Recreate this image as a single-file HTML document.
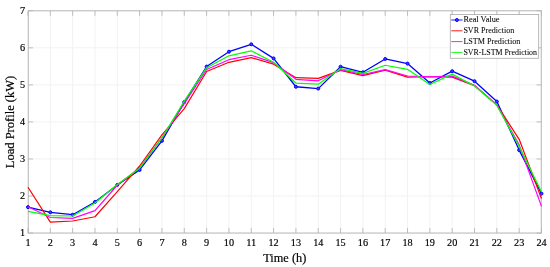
<!DOCTYPE html>
<html><head><meta charset="utf-8"><style>
html,body{margin:0;padding:0;background:#fff;width:550px;height:267px;overflow:hidden}
svg{display:block;font-family:"Liberation Serif",serif;fill:#000}
svg text{fill:#000;stroke:#000;stroke-width:0.18px}
</style></head><body>
<svg width="550" height="267" viewBox="0 0 550 267">
<rect x="0" y="0" width="550" height="267" fill="#fff"/>
<g stroke="#f2f2f2" stroke-width="1"><line x1="50.33" y1="10.8" x2="50.33" y2="233.05"/><line x1="72.65" y1="10.8" x2="72.65" y2="233.05"/><line x1="94.98" y1="10.8" x2="94.98" y2="233.05"/><line x1="117.30" y1="10.8" x2="117.30" y2="233.05"/><line x1="139.63" y1="10.8" x2="139.63" y2="233.05"/><line x1="161.96" y1="10.8" x2="161.96" y2="233.05"/><line x1="184.28" y1="10.8" x2="184.28" y2="233.05"/><line x1="206.61" y1="10.8" x2="206.61" y2="233.05"/><line x1="228.93" y1="10.8" x2="228.93" y2="233.05"/><line x1="251.26" y1="10.8" x2="251.26" y2="233.05"/><line x1="273.59" y1="10.8" x2="273.59" y2="233.05"/><line x1="295.91" y1="10.8" x2="295.91" y2="233.05"/><line x1="318.24" y1="10.8" x2="318.24" y2="233.05"/><line x1="340.57" y1="10.8" x2="340.57" y2="233.05"/><line x1="362.89" y1="10.8" x2="362.89" y2="233.05"/><line x1="385.22" y1="10.8" x2="385.22" y2="233.05"/><line x1="407.54" y1="10.8" x2="407.54" y2="233.05"/><line x1="429.87" y1="10.8" x2="429.87" y2="233.05"/><line x1="452.20" y1="10.8" x2="452.20" y2="233.05"/><line x1="474.52" y1="10.8" x2="474.52" y2="233.05"/><line x1="496.85" y1="10.8" x2="496.85" y2="233.05"/><line x1="519.17" y1="10.8" x2="519.17" y2="233.05"/><line x1="28.0" y1="196.01" x2="541.5" y2="196.01"/><line x1="28.0" y1="158.97" x2="541.5" y2="158.97"/><line x1="28.0" y1="121.93" x2="541.5" y2="121.93"/><line x1="28.0" y1="84.88" x2="541.5" y2="84.88"/><line x1="28.0" y1="47.84" x2="541.5" y2="47.84"/></g>
<g stroke="#b0b0b0" stroke-width="0.8"><line x1="28.00" y1="233.05" x2="28.00" y2="228.05"/><line x1="28.00" y1="10.8" x2="28.00" y2="15.8"/><line x1="50.33" y1="233.05" x2="50.33" y2="228.05"/><line x1="50.33" y1="10.8" x2="50.33" y2="15.8"/><line x1="72.65" y1="233.05" x2="72.65" y2="228.05"/><line x1="72.65" y1="10.8" x2="72.65" y2="15.8"/><line x1="94.98" y1="233.05" x2="94.98" y2="228.05"/><line x1="94.98" y1="10.8" x2="94.98" y2="15.8"/><line x1="117.30" y1="233.05" x2="117.30" y2="228.05"/><line x1="117.30" y1="10.8" x2="117.30" y2="15.8"/><line x1="139.63" y1="233.05" x2="139.63" y2="228.05"/><line x1="139.63" y1="10.8" x2="139.63" y2="15.8"/><line x1="161.96" y1="233.05" x2="161.96" y2="228.05"/><line x1="161.96" y1="10.8" x2="161.96" y2="15.8"/><line x1="184.28" y1="233.05" x2="184.28" y2="228.05"/><line x1="184.28" y1="10.8" x2="184.28" y2="15.8"/><line x1="206.61" y1="233.05" x2="206.61" y2="228.05"/><line x1="206.61" y1="10.8" x2="206.61" y2="15.8"/><line x1="228.93" y1="233.05" x2="228.93" y2="228.05"/><line x1="228.93" y1="10.8" x2="228.93" y2="15.8"/><line x1="251.26" y1="233.05" x2="251.26" y2="228.05"/><line x1="251.26" y1="10.8" x2="251.26" y2="15.8"/><line x1="273.59" y1="233.05" x2="273.59" y2="228.05"/><line x1="273.59" y1="10.8" x2="273.59" y2="15.8"/><line x1="295.91" y1="233.05" x2="295.91" y2="228.05"/><line x1="295.91" y1="10.8" x2="295.91" y2="15.8"/><line x1="318.24" y1="233.05" x2="318.24" y2="228.05"/><line x1="318.24" y1="10.8" x2="318.24" y2="15.8"/><line x1="340.57" y1="233.05" x2="340.57" y2="228.05"/><line x1="340.57" y1="10.8" x2="340.57" y2="15.8"/><line x1="362.89" y1="233.05" x2="362.89" y2="228.05"/><line x1="362.89" y1="10.8" x2="362.89" y2="15.8"/><line x1="385.22" y1="233.05" x2="385.22" y2="228.05"/><line x1="385.22" y1="10.8" x2="385.22" y2="15.8"/><line x1="407.54" y1="233.05" x2="407.54" y2="228.05"/><line x1="407.54" y1="10.8" x2="407.54" y2="15.8"/><line x1="429.87" y1="233.05" x2="429.87" y2="228.05"/><line x1="429.87" y1="10.8" x2="429.87" y2="15.8"/><line x1="452.20" y1="233.05" x2="452.20" y2="228.05"/><line x1="452.20" y1="10.8" x2="452.20" y2="15.8"/><line x1="474.52" y1="233.05" x2="474.52" y2="228.05"/><line x1="474.52" y1="10.8" x2="474.52" y2="15.8"/><line x1="496.85" y1="233.05" x2="496.85" y2="228.05"/><line x1="496.85" y1="10.8" x2="496.85" y2="15.8"/><line x1="519.17" y1="233.05" x2="519.17" y2="228.05"/><line x1="519.17" y1="10.8" x2="519.17" y2="15.8"/><line x1="541.50" y1="233.05" x2="541.50" y2="228.05"/><line x1="541.50" y1="10.8" x2="541.50" y2="15.8"/><line x1="28.0" y1="233.05" x2="33.0" y2="233.05"/><line x1="541.5" y1="233.05" x2="536.5" y2="233.05"/><line x1="28.0" y1="196.01" x2="33.0" y2="196.01"/><line x1="541.5" y1="196.01" x2="536.5" y2="196.01"/><line x1="28.0" y1="158.97" x2="33.0" y2="158.97"/><line x1="541.5" y1="158.97" x2="536.5" y2="158.97"/><line x1="28.0" y1="121.93" x2="33.0" y2="121.93"/><line x1="541.5" y1="121.93" x2="536.5" y2="121.93"/><line x1="28.0" y1="84.88" x2="33.0" y2="84.88"/><line x1="541.5" y1="84.88" x2="536.5" y2="84.88"/><line x1="28.0" y1="47.84" x2="33.0" y2="47.84"/><line x1="541.5" y1="47.84" x2="536.5" y2="47.84"/><line x1="28.0" y1="10.80" x2="33.0" y2="10.80"/><line x1="541.5" y1="10.80" x2="536.5" y2="10.80"/></g>
<rect x="28.25" y="10.8" width="513.00" height="222.25" fill="none" stroke="#b4b4b4" stroke-width="1"/>
<polyline points="28.00,207.12 50.33,212.31 72.65,214.71 94.98,201.94 117.30,184.90 139.63,169.89 161.96,140.82 184.28,102.11 206.61,66.55 228.93,51.73 251.26,44.29 273.59,58.40 295.91,86.74 318.24,88.59 340.57,66.73 362.89,72.29 385.22,58.95 407.54,63.58 429.87,83.03 452.20,71.18 474.52,81.18 496.85,101.55 519.17,150.08 541.50,193.60" fill="none" stroke="#0000ff" stroke-width="1.3" stroke-linejoin="round"/>
<g fill="#3c3cff" stroke="#0000ff" stroke-width="1"><circle cx="28.00" cy="207.12" r="1.5"/><circle cx="50.33" cy="212.31" r="1.5"/><circle cx="72.65" cy="214.71" r="1.5"/><circle cx="94.98" cy="201.94" r="1.5"/><circle cx="117.30" cy="184.90" r="1.5"/><circle cx="139.63" cy="169.89" r="1.5"/><circle cx="161.96" cy="140.82" r="1.5"/><circle cx="184.28" cy="102.11" r="1.5"/><circle cx="206.61" cy="66.55" r="1.5"/><circle cx="228.93" cy="51.73" r="1.5"/><circle cx="251.26" cy="44.29" r="1.5"/><circle cx="273.59" cy="58.40" r="1.5"/><circle cx="295.91" cy="86.74" r="1.5"/><circle cx="318.24" cy="88.59" r="1.5"/><circle cx="340.57" cy="66.73" r="1.5"/><circle cx="362.89" cy="72.29" r="1.5"/><circle cx="385.22" cy="58.95" r="1.5"/><circle cx="407.54" cy="63.58" r="1.5"/><circle cx="429.87" cy="83.03" r="1.5"/><circle cx="452.20" cy="71.18" r="1.5"/><circle cx="474.52" cy="81.18" r="1.5"/><circle cx="496.85" cy="101.55" r="1.5"/><circle cx="519.17" cy="150.08" r="1.5"/><circle cx="541.50" cy="193.60" r="1.5"/></g>
<polyline points="28.00,187.30 50.33,222.12 72.65,221.01 94.98,216.75 117.30,191.56 139.63,166.00 161.96,134.89 184.28,108.59 206.61,71.55 228.93,62.29 251.26,57.66 273.59,64.14 295.91,77.66 318.24,78.40 340.57,70.44 362.89,75.62 385.22,70.07 407.54,77.10 429.87,76.73 452.20,77.10 474.52,85.62 496.85,104.89 519.17,139.33 541.50,198.60" fill="none" stroke="#ff0000" stroke-width="1.2" stroke-linejoin="round"/>
<polyline points="28.00,206.75 50.33,217.49 72.65,218.42 94.98,210.64 117.30,185.27 139.63,167.86 161.96,137.85 184.28,103.77 206.61,69.51 228.93,59.70 251.26,55.25 273.59,62.66 295.91,79.33 318.24,80.81 340.57,69.70 362.89,74.51 385.22,69.70 407.54,75.99 429.87,76.73 452.20,76.18 474.52,85.25 496.85,104.89 519.17,144.89 541.50,206.38" fill="none" stroke="#ff00ff" stroke-width="1.2" stroke-linejoin="round"/>
<polyline points="28.00,211.38 50.33,215.64 72.65,216.01 94.98,203.05 117.30,184.53 139.63,168.23 161.96,137.85 184.28,101.18 206.61,67.66 228.93,55.81 251.26,50.81 273.59,62.29 295.91,83.03 318.24,84.14 340.57,68.59 362.89,73.40 385.22,65.25 407.54,69.33 429.87,84.51 452.20,74.14 474.52,85.99 496.85,105.26 519.17,146.37 541.50,191.93" fill="none" stroke="#00ff00" stroke-width="1.2" stroke-linejoin="round"/>
<rect x="450.3" y="14.5" width="88.40" height="43.80" fill="#fff" stroke="#a8a8a8" stroke-width="0.8"/>
<line x1="451.3" y1="20.00" x2="462.5" y2="20.00" stroke="#0000ff" stroke-width="0.9"/>
<circle cx="456.9" cy="20.00" r="1.5" fill="#3c3cff" stroke="#0000ff" stroke-width="1"/>
<text x="463.4" y="22.10" textLength="36.1" lengthAdjust="spacingAndGlyphs" font-size="7.6" style="stroke-width:0.05px">Real Value</text>
<line x1="451.3" y1="30.80" x2="462.5" y2="30.80" stroke="#ff0000" stroke-width="0.9"/>
<text x="463.4" y="32.90" textLength="50.8" lengthAdjust="spacingAndGlyphs" font-size="7.6" style="stroke-width:0.05px">SVR Prediction</text>
<line x1="451.3" y1="41.60" x2="462.5" y2="41.60" stroke="#ff00ff" stroke-width="0.9"/>
<text x="463.4" y="43.70" textLength="57.0" lengthAdjust="spacingAndGlyphs" font-size="7.6" style="stroke-width:0.05px">LSTM Prediction</text>
<line x1="451.3" y1="52.40" x2="462.5" y2="52.40" stroke="#00ff00" stroke-width="0.9"/>
<text x="463.4" y="54.50" textLength="73.6" lengthAdjust="spacingAndGlyphs" font-size="7.6" style="stroke-width:0.05px">SVR-LSTM Prediction</text>
<g font-size="11"><text x="28.00" y="246.3" text-anchor="middle" textLength="5.10" lengthAdjust="spacingAndGlyphs">1</text><text x="50.33" y="246.3" text-anchor="middle" textLength="5.10" lengthAdjust="spacingAndGlyphs">2</text><text x="72.65" y="246.3" text-anchor="middle" textLength="5.10" lengthAdjust="spacingAndGlyphs">3</text><text x="94.98" y="246.3" text-anchor="middle" textLength="5.10" lengthAdjust="spacingAndGlyphs">4</text><text x="117.30" y="246.3" text-anchor="middle" textLength="5.10" lengthAdjust="spacingAndGlyphs">5</text><text x="139.63" y="246.3" text-anchor="middle" textLength="5.10" lengthAdjust="spacingAndGlyphs">6</text><text x="161.96" y="246.3" text-anchor="middle" textLength="5.10" lengthAdjust="spacingAndGlyphs">7</text><text x="184.28" y="246.3" text-anchor="middle" textLength="5.10" lengthAdjust="spacingAndGlyphs">8</text><text x="206.61" y="246.3" text-anchor="middle" textLength="5.10" lengthAdjust="spacingAndGlyphs">9</text><text x="228.93" y="246.3" text-anchor="middle" textLength="10.20" lengthAdjust="spacingAndGlyphs">10</text><text x="251.26" y="246.3" text-anchor="middle" textLength="10.20" lengthAdjust="spacingAndGlyphs">11</text><text x="273.59" y="246.3" text-anchor="middle" textLength="10.20" lengthAdjust="spacingAndGlyphs">12</text><text x="295.91" y="246.3" text-anchor="middle" textLength="10.20" lengthAdjust="spacingAndGlyphs">13</text><text x="318.24" y="246.3" text-anchor="middle" textLength="10.20" lengthAdjust="spacingAndGlyphs">14</text><text x="340.57" y="246.3" text-anchor="middle" textLength="10.20" lengthAdjust="spacingAndGlyphs">15</text><text x="362.89" y="246.3" text-anchor="middle" textLength="10.20" lengthAdjust="spacingAndGlyphs">16</text><text x="385.22" y="246.3" text-anchor="middle" textLength="10.20" lengthAdjust="spacingAndGlyphs">17</text><text x="407.54" y="246.3" text-anchor="middle" textLength="10.20" lengthAdjust="spacingAndGlyphs">18</text><text x="429.87" y="246.3" text-anchor="middle" textLength="10.20" lengthAdjust="spacingAndGlyphs">19</text><text x="452.20" y="246.3" text-anchor="middle" textLength="10.20" lengthAdjust="spacingAndGlyphs">20</text><text x="474.52" y="246.3" text-anchor="middle" textLength="10.20" lengthAdjust="spacingAndGlyphs">21</text><text x="496.85" y="246.3" text-anchor="middle" textLength="10.20" lengthAdjust="spacingAndGlyphs">22</text><text x="519.17" y="246.3" text-anchor="middle" textLength="10.20" lengthAdjust="spacingAndGlyphs">23</text><text x="541.50" y="246.3" text-anchor="middle" textLength="10.20" lengthAdjust="spacingAndGlyphs">24</text><text x="25.2" y="235.75" text-anchor="end" textLength="5.10" lengthAdjust="spacingAndGlyphs">1</text><text x="25.2" y="198.71" text-anchor="end" textLength="5.10" lengthAdjust="spacingAndGlyphs">2</text><text x="25.2" y="161.67" text-anchor="end" textLength="5.10" lengthAdjust="spacingAndGlyphs">3</text><text x="25.2" y="124.63" text-anchor="end" textLength="5.10" lengthAdjust="spacingAndGlyphs">4</text><text x="25.2" y="87.58" text-anchor="end" textLength="5.10" lengthAdjust="spacingAndGlyphs">5</text><text x="25.2" y="50.54" text-anchor="end" textLength="5.10" lengthAdjust="spacingAndGlyphs">6</text><text x="25.2" y="13.50" text-anchor="end" textLength="5.10" lengthAdjust="spacingAndGlyphs">7</text></g>
<text x="284.75" y="261.6" text-anchor="middle" font-size="12" textLength="43" lengthAdjust="spacingAndGlyphs">Time (h)</text>
<text transform="translate(13.8,122) rotate(-90)" x="0" y="0" text-anchor="middle" font-size="12" textLength="92.5" lengthAdjust="spacingAndGlyphs">Load Profile (kW)</text>
</svg>
</body></html>
